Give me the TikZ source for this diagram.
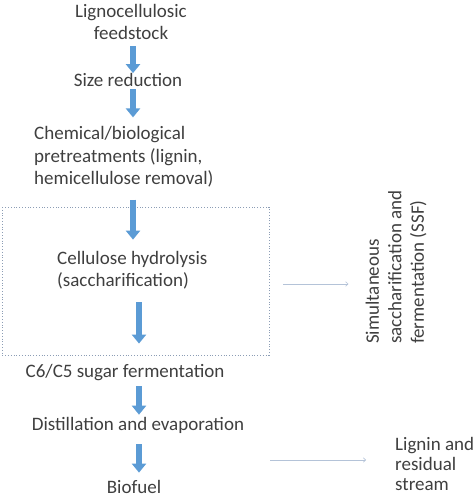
\documentclass[tikz,border=0pt]{standalone}
\usepackage{fontspec}
\setmainfont{Carlito}
\usetikzlibrary{arrows.meta}
\definecolor{txtgray}{HTML}{3F3F3F}
\definecolor{flowblue}{HTML}{5B9BD5}
\definecolor{thinblue}{HTML}{B4C3D8}
\definecolor{boxblue}{HTML}{8C9DB5}
\begin{document}
\begin{tikzpicture}[x=1pt,y=-1pt] % схема процесса
\tikzstyle{stage} = [text=txtgray, inner sep=0pt, font=\fontsize{19}{22.5}\selectfont] % text of a stage
\tikzstyle{bigarrow} = [line width=6pt, -{Triangle[width=14pt,length=9pt]}, color=flowblue] % blue arrow between stages
\tikzstyle{thinarrow} = [draw=thinblue, line width=0.6pt, -{To[length=3pt,width=5pt]}] % thin arrow to the side note
\useasboundingbox (0,0) rectangle (474,498);

\node[stage, align=center] (feed) at (131,22) {Lignocellulosic\\feedstock};
\node[stage] (size) at (128,80) {Size reduction};
\node[stage, align=left, anchor=west] (pre) at (34,157) {Chemical/biological\\pretreatments (lignin,\\hemicellulose removal)};
\node[stage, align=left, anchor=west] (hyd) at (57,270) {Cellulose hydrolysis\\(saccharification)};
\node[stage] (ferm) at (125,373) {C6/C5 sugar fermentation};
\node[stage] (dist) at (138,425) {Distillation and evaporation};
\node[stage] (fuel) at (134,487) {Biofuel};

% side notes
\node[stage, align=left, anchor=west, rotate=90] (ssf) at (396,344) {Simultaneous\\saccharification and\\fermentation (SSF)};
\node[stage, align=left, anchor=north west, font=\fontsize{19}{20}\selectfont] (res) at (395,437) {Lignin and\\residual\\stream};

% dotted box round hydrolysis
\draw[boxblue, dotted, line width=0.8pt] (2,207) rectangle (269,355);

% vertical axes of the arrows
\coordinate (axa) at (133,0);
\coordinate (axb) at (139,0);
\coordinate (ssfin) at (283,284);
\coordinate (resin) at (270,460);

\draw[bigarrow, shorten <=6pt] (feed.south -| axa) -- (size.north -| axa);
\draw[bigarrow, shorten <=2.5pt, shorten >=9pt] (size.south -| axa) -- (pre.north -| axa);
\draw[bigarrow, shorten <=12pt, shorten >=11pt] (pre.south -| axa) -- (hyd.north -| axa);
\draw[bigarrow, shorten <=13pt, shorten >=21pt] (hyd.south -| axb) -- (ferm.north -| axb);
\draw[bigarrow, shorten <=5pt, shorten >=2pt] (ferm.south -| axb) -- (dist.north -| axb);
\draw[bigarrow, shorten <=11pt, shorten >=7.5pt] (dist.south -| axb) -- (fuel.north -| axb);

\draw[thinarrow, shorten >=17pt] (ssfin) -- (ssf.north |- ssfin);
\draw[thinarrow, shorten >=29pt] (resin) -- (res.west |- resin);
\end{tikzpicture}
\end{document}
